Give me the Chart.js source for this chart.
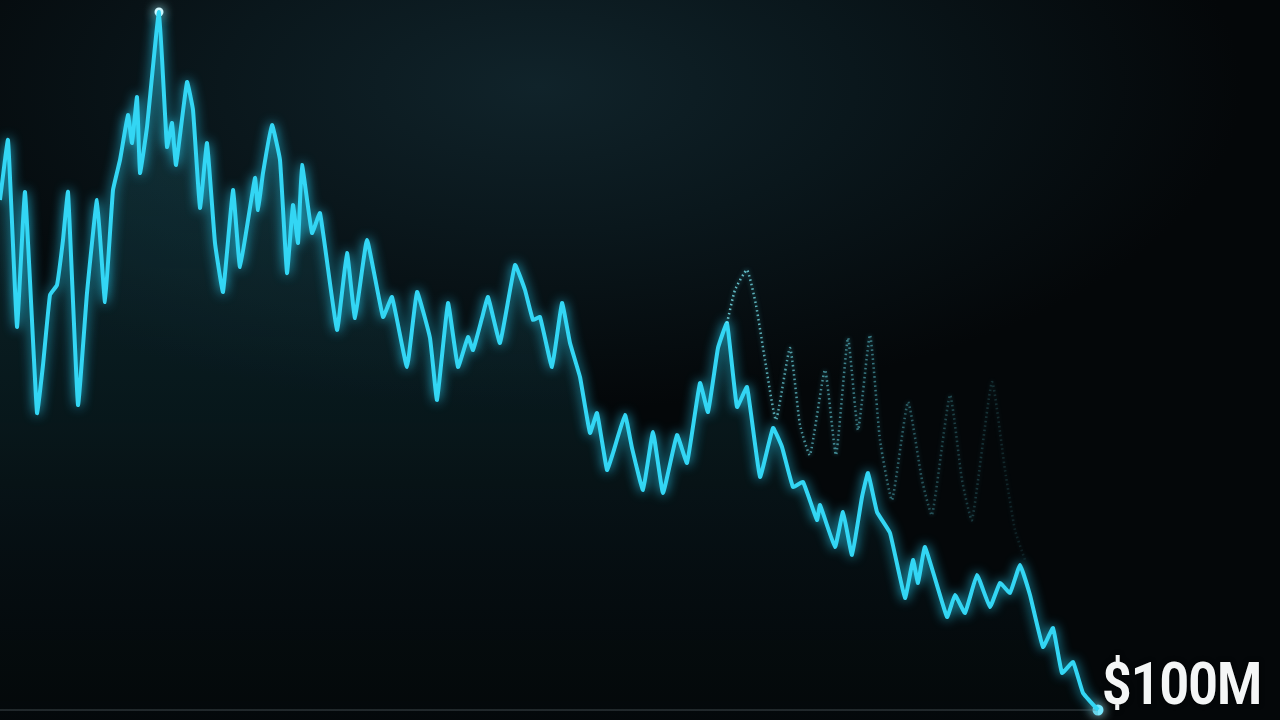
<!DOCTYPE html>
<html>
<head>
<meta charset="utf-8">
<script src="https://cdn.jsdelivr.net/npm/chart.js@4"></script>
<style>
  html, body { margin: 0; padding: 0; }
  body {
    width: 1280px; height: 720px; overflow: hidden;
    background: radial-gradient(ellipse 55% 45% at 42% 12%, #10232a 0%, #0a171c 45%, #040709 100%);
    font-family: Roboto, sans-serif;
  }
  #wrap { position: relative; width: 1280px; height: 720px; }
  #label {
    position: absolute; left: 1102px; top: 648px;
    color: #f4f6f6; font-size: 60px; font-weight: 700; letter-spacing: -1px;
    transform: scaleX(0.86); transform-origin: left top;
    text-shadow: 0 0 6px rgba(0,0,0,0.8);
  }
</style>
</head>
<body>
<div id="wrap">
  <canvas id="chart" width="1280" height="720"></canvas>
  <div id="label">$100M</div>
</div>
<script>
// price history (step, value)
const steps = [0,8,17,25,37,43,50,57,63,68,78,87,97,105,113,120,128,132,137,140,147,159,167,172,176,187,193,200,207,215,223,233,240,255,258,263,272,280,287,293,298,302,312,320,337,347,355,367,383,392,407,417,430,437,448,458,468,473,482,488,500,515,525,533,540,552,562,570,580,590,597,607,613,625,632,643,653,663,677,687,700,708,718,727,737,747,760,773,782,793,803,817,820,835,843,852,862,868,877,890,905,913,918,925,947,955,965,977,990,1000,1010,1020,1030,1043,1053,1062,1073,1083,1098];
const values = [520,580,393,528,307,355,425,435,480,528,315,427,520,418,530,560,605,577,623,547,593,708,573,597,555,638,610,512,577,477,428,530,453,542,510,547,595,560,447,515,477,555,487,507,390,467,402,480,403,423,353,428,382,320,417,353,383,370,402,423,377,455,430,400,403,353,417,377,343,287,307,250,267,305,272,230,288,227,285,257,337,308,372,397,313,333,243,292,273,233,238,200,215,173,208,165,223,247,208,187,122,160,137,173,103,125,107,145,113,137,127,155,125,73,92,47,58,27,10];

// projected ("ghost") path
const ghostSteps = [727,735,747,756,765,776,790,800,810,825,836,848,858,870,880,892,908,922,932,950,962,972,992,1005,1015,1025];
const ghostValues = [397,430,450,415,360,300,372,295,265,350,265,382,290,385,280,220,318,240,205,325,240,200,338,250,190,160];

const baseValue = 10;
const baseEnd = 1098;

const toXY = (xs, ys) => xs.map((x, i) => ({ x: x, y: ys[i] }));
const peakIdx = values.indexOf(Math.max(...values));
const lastIdx = values.length - 1;

const glow = {
  id: "glow",
  beforeDatasetDraw(chart, args) {
    const ctx = chart.ctx;
    ctx.save();
    if (args.index === 1) {
      ctx.shadowColor = "rgba(40, 210, 245, 0.95)";
      ctx.shadowBlur = 12;
    } else if (args.index === 0) {
      ctx.shadowColor = "rgba(80, 220, 240, 0.7)";
      ctx.shadowBlur = 4;
    } else if (args.index === 3) {
      ctx.shadowColor = "rgba(200, 250, 255, 1)";
      ctx.shadowBlur = 12;
    }
  },
  afterDatasetDraw(chart) {
    chart.ctx.restore();
  }
};

new Chart(document.getElementById("chart"), {
  type: "line",
  data: {
    datasets: [
      {
        label: "ghost",
        data: toXY(ghostSteps, ghostValues),
        borderWidth: 2.5,
        borderDash: [1.5, 3],
        borderColor: (c) => {
          const a = c.chart.chartArea;
          if (!a) return "rgba(90,200,215,0.5)";
          const g = c.chart.ctx.createLinearGradient(720, 0, 1030, 0);
          g.addColorStop(0, "rgba(120,225,235,0.85)");
          g.addColorStop(0.5, "rgba(90,195,210,0.55)");
          g.addColorStop(1, "rgba(60,140,150,0.15)");
          return g;
        },
        pointRadius: 0,
        tension: 0.15,
        fill: false
      },
      {
        label: "price",
        data: toXY(steps, values),
        borderWidth: 4,
        borderColor: "#33d6f4",
        pointRadius: 0,
        tension: 0.1,
        fill: "origin",
        backgroundColor: (c) => {
          const a = c.chart.chartArea;
          if (!a) return "rgba(20,70,80,0.3)";
          const g = c.chart.ctx.createLinearGradient(0, a.top, 0, a.bottom);
          g.addColorStop(0, "rgba(40,120,135,0.35)");
          g.addColorStop(0.6, "rgba(20,70,80,0.25)");
          g.addColorStop(1, "rgba(8,25,30,0.1)");
          return g;
        }
      },
      {
        label: "base",
        data: [{ x: 0, y: baseValue }, { x: baseEnd, y: baseValue }],
        borderWidth: 1.5,
        borderColor: "rgba(110,125,130,0.4)",
        pointRadius: 0,
        fill: false
      },
      {
        label: "marks",
        data: [toXY(steps, values)[peakIdx], toXY(steps, values)[lastIdx]],
        showLine: false,
        pointRadius: [4.5, 5.5],
        pointBackgroundColor: ["#e8fdff", "#7eeaff"],
        pointBorderWidth: 0
      }
    ]
  },
  options: {
    responsive: false,
    animation: false,
    layout: { padding: 0, autoPadding: false },
    plugins: { legend: { display: false }, tooltip: { enabled: false } },
    scales: {
      x: { type: "linear", min: 0, max: 1280, display: false },
      y: { type: "linear", min: 0, max: 720, display: false }
    }
  },
  plugins: [glow]
});
</script>
</body>
</html>
